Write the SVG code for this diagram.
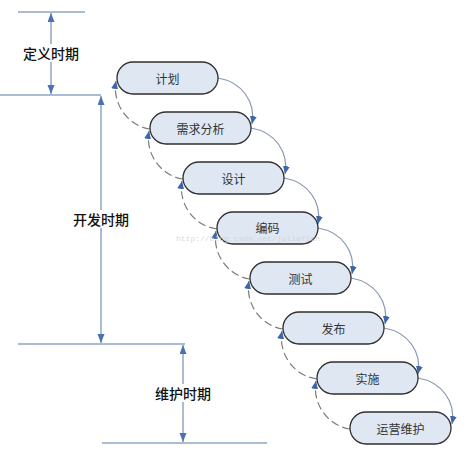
<svg xmlns="http://www.w3.org/2000/svg" width="474" height="457" viewBox="0 0 474 457">
<style>
.node rect{fill:#dfe7f3;stroke:#2f2f2f;stroke-width:1.3}
.node text{font-family:"Noto Sans CJK SC","Noto Sans",sans-serif;font-size:12px;fill:#333;text-anchor:middle;dominant-baseline:central}
.dim line{stroke:#8ea5c6;stroke-width:1.5}
.dimv{stroke:#6f8fbf;stroke-width:1.5;marker-start:url(#dh);marker-end:url(#dh)}
.lbl{font-family:"Noto Sans CJK SC","Noto Sans",sans-serif;font-size:14px;font-weight:500;fill:#111;text-anchor:middle;dominant-baseline:central}
.solid{fill:none;stroke:#8796ad;stroke-width:1.2;marker-end:url(#ah)}
.dash{fill:none;stroke:#7c7c7c;stroke-width:1.2;stroke-dasharray:8 4;marker-end:url(#ah)}
.wm{font-family:"Liberation Mono",monospace;font-size:8px;fill:#cfcfcf;fill-opacity:0.8}
</style>
<defs>
<marker id="ah" markerUnits="userSpaceOnUse" markerWidth="9" markerHeight="8" refX="8" refY="3.5" orient="auto">
<path d="M0,0 L8,3.5 L0,7 z" fill="#3d66aa"/>
</marker>
<marker id="dh" markerUnits="userSpaceOnUse" markerWidth="10" markerHeight="8" refX="9" refY="3.5" orient="auto-start-reverse">
<path d="M0,0 L9,3.5 L0,7 z" fill="#4a72b0"/>
</marker>
</defs>
<rect width="474" height="457" fill="#fff"/>
<g id="dimensions" class="dim">
<line x1="18" y1="12" x2="85" y2="12"/>
<line x1="0" y1="95" x2="101" y2="95"/>
<line x1="18" y1="344" x2="185" y2="344"/>
<line x1="102" y1="443" x2="267" y2="443"/>
<line class="dimv" x1="51" y1="13" x2="51" y2="94"/>
<line class="dimv" x1="101" y1="96" x2="101" y2="343"/>
<line class="dimv" x1="183" y1="345" x2="183" y2="442"/>
</g>
<g id="label-define">
<rect x="22" y="44" width="58" height="18" fill="#fff"/>
<text class="lbl" x="51" y="53">定义时期</text>
</g>
<g id="label-develop">
<rect x="72" y="210" width="58" height="18" fill="#fff"/>
<text class="lbl" x="101" y="219">开发时期</text>
</g>
<g id="label-maintain">
<rect x="154" y="384" width="58" height="18" fill="#fff"/>
<text class="lbl" x="183" y="393">维护时期</text>
</g>
<g id="connectors">
<path class="solid" d="M218,78 C242,82 256,102 252,124"/>
<path class="solid" d="M251,128 C275,132 289,152 285,174"/>
<path class="solid" d="M284,178 C308,182 322,202 318,224"/>
<path class="solid" d="M318,228 C342,232 356,252 352,274"/>
<path class="solid" d="M351,278 C375,282 389,302 385,324"/>
<path class="solid" d="M384,328 C408,332 422,352 418,374"/>
<path class="solid" d="M418,378 C442,382 456,402 452,424"/>
<path class="dash" d="M150,129 C128,126 112,104 116,81"/>
<path class="dash" d="M183,179 C161,176 145,154 149,131"/>
<path class="dash" d="M217,229 C194,226 178,204 182,181"/>
<path class="dash" d="M250,279 C228,276 212,254 216,231"/>
<path class="dash" d="M283,329 C261,326 245,304 249,281"/>
<path class="dash" d="M317,379 C294,376 278,354 282,331"/>
<path class="dash" d="M350,429 C328,426 312,404 316,381"/>
</g>
<g id="n1" class="node"><rect x="117" y="62" width="101" height="32" rx="16"/><text x="167.5" y="78">计划</text></g>
<g id="n2" class="node"><rect x="150" y="112" width="101" height="32" rx="16"/><text x="200.5" y="128">需求分析</text></g>
<g id="n3" class="node"><rect x="183" y="162" width="101" height="32" rx="16"/><text x="233.5" y="178">设计</text></g>
<g id="n4" class="node"><rect x="217" y="212" width="101" height="32" rx="16"/><text x="267.5" y="227">编码</text></g>
<g id="n5" class="node"><rect x="250" y="262" width="101" height="32" rx="16"/><text x="300.5" y="278">测试</text></g>
<g id="n6" class="node"><rect x="283" y="312" width="101" height="32" rx="16"/><text x="333.5" y="328">发布</text></g>
<g id="n7" class="node"><rect x="317" y="362" width="101" height="32" rx="16"/><text x="367.5" y="378">实施</text></g>
<g id="n8" class="node"><rect x="350" y="412" width="101" height="32" rx="16"/><text x="400.5" y="428">运营维护</text></g>
<text class="wm" x="176" y="241">http://blog.csdn.net/juliafish</text>
</svg>
